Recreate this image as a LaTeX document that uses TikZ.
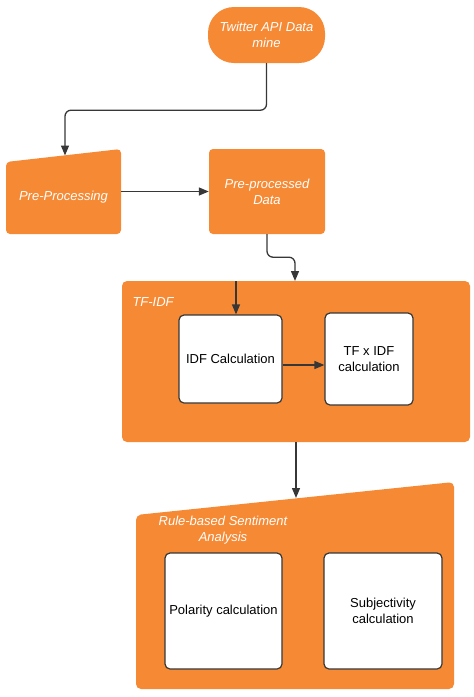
\documentclass[tikz,border=0pt]{standalone}
\usepackage{fontspec}
\setmainfont{Liberation Sans}
\usetikzlibrary{arrows.meta}
\definecolor{orng}{RGB}{246,137,52}
\definecolor{lnc}{RGB}{55,55,55}
\tikzset{
  txt/.style={font=\fontsize{13}{16}\selectfont, align=center},
  otxt/.style={txt, text=white, font=\fontsize{13}{16}\selectfont\itshape},
  obox/.style={otxt, fill=orng, rounded corners=4pt, inner sep=0pt},
  wbox/.style={txt, fill=white, draw=lnc, line width=1.2pt, rounded corners=5pt, inner sep=0pt},
  conn/.style={draw=lnc, line width=1.3pt, -{Triangle[length=10pt,width=8pt]}, rounded corners=6pt},
}
\begin{document}
\begin{tikzpicture}[x=1pt,y=-1pt]
\useasboundingbox (0,0) rectangle (474,697);
% Twitter
\node[obox, rounded corners=26pt, minimum width=117pt, minimum height=56pt] (tw) at (266.5,35) {Twitter API Data\\mine};
% Pre-Processing (sloped top)
\fill[orng, rounded corners=4pt] (6,162) -- (121,149) -- (121,234) -- (6,234) -- cycle;
\node[minimum width=115pt, minimum height=85pt, inner sep=0pt] (pre) at (63.5,191.5) {};
\node[otxt] (prelab) at (63.5,197) {Pre-Processing};
\coordinate (pretop) at (65,155.5);
% Pre-processed Data
\node[obox, minimum width=116pt, minimum height=85pt] (ppd) at (267,191.5) {Pre-processed\\Data};
% TF-IDF container
\node[obox, minimum width=348pt, minimum height=161pt, rounded corners=5pt] (tfidf) at (296,361.5) {};
\node[otxt, anchor=west] (tflab) at (129,302) {TF-IDF};
\coordinate (tftop) at (295,281);
\coordinate (tfin) at (236,281);
\node[wbox, minimum width=103pt, minimum height=88pt] (idf) at (230.5,359) {IDF Calculation};
\node[wbox, minimum width=88pt, minimum height=92pt] (tfx) at (369,359) {TF x IDF\\calculation};
% Rule-based container (sloped top)
\fill[orng, rounded corners=5pt] (136,515) -- (454,482) -- (454,689) -- (136,689) -- cycle;
\coordinate (ruletop) at (296,498);
\node[otxt] (rulelab) at (223,530) {Rule-based Sentiment\\Analysis};
\node[wbox, minimum width=117pt, minimum height=116pt] (pol) at (223.5,611) {Polarity calculation};
\node[wbox, minimum width=118pt, minimum height=116pt] (subj) at (383,611) {Subjectivity\\calculation};
% connectors
\draw[conn] (tw.south) -- ++(0,47) -| (pretop);
\draw[conn] (pre.east) -- (ppd.west);
\draw[conn] (ppd.south) -- ++(0,23) -| (tftop);
\draw[conn] (tfin) -- (tfin |- idf.north);
\draw[conn] ([yshift=-6pt]idf.east) -- ([yshift=-6pt]idf.east -| tfx.west);
\draw[conn] (tfidf.south) -- (ruletop);
\end{tikzpicture}
\end{document}
